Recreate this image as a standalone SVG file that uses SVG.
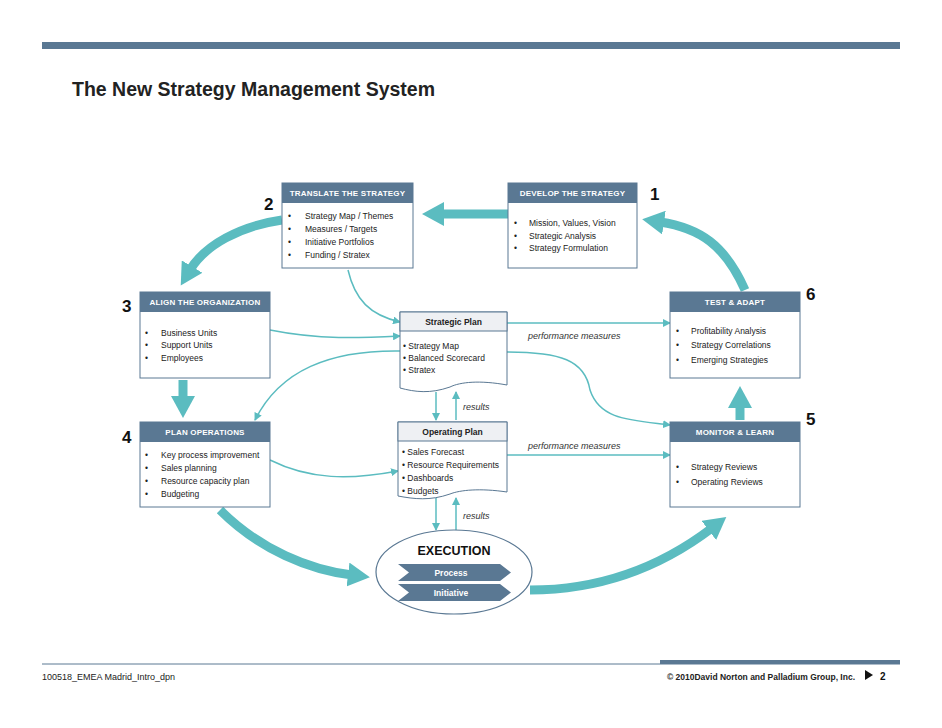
<svg xmlns="http://www.w3.org/2000/svg" width="942" height="728" viewBox="0 0 942 728">
<defs>
<marker id="ah" markerWidth="8" markerHeight="8" refX="7" refY="4" orient="auto" markerUnits="userSpaceOnUse"><path d="M0,0 L8,4 L0,8 Z" fill="#5bbcc0"/></marker>
<marker id="big" markerWidth="24" markerHeight="24" refX="4" refY="12" orient="auto" markerUnits="userSpaceOnUse"><path d="M0,0 L22,12 L0,24 Z" fill="#5bbcc0"/></marker>
</defs>
<style>
text{font-family:"Liberation Sans",Arial,sans-serif}
.hd{fill:#5a7893}
.hdt{fill:#fff;font-size:8px;font-weight:bold;text-anchor:middle;letter-spacing:0.2px}
.bx{fill:#fff;stroke:#5a7893;stroke-width:1}
.t{font-size:8.5px;fill:#222}
.num{font-size:17px;font-weight:bold;fill:#111}
.thick{fill:none;stroke:#5bbcc0;stroke-width:9;marker-end:url(#big)}
.thin{fill:none;stroke:#5bbcc0;stroke-width:1.5;marker-end:url(#ah)}
.it{font-size:9px;font-style:italic;fill:#333}
.ph{fill:#eef0f3;stroke:#5a7893}
.pht{font-size:8.5px;font-weight:bold;fill:#222;text-anchor:middle}
</style>
<rect width="942" height="728" fill="#fff"/>
<rect x="42" y="42" width="858" height="7" fill="#5a7893"/>
<text x="72" y="96" font-size="19.5" font-weight="bold" fill="#222">The New Strategy Management System</text>

<g id="connectors">
<path class="thick" d="M508,214 L440,214"/>
<path class="thick" d="M745,290 C725,245 700,228 660,222"/>
<path class="thick" d="M282,220 C240,226 205,245 190,270"/>
<path class="thick" d="M183,380 L183,400"/>
<path class="thick" d="M220,510 C260,550 310,570 352,575"/>
<path class="thick" d="M530,590 C610,590 670,560 712,528"/>
<path class="thick" d="M740,420 L740,404"/>
<path class="thin" d="M348,270 C355,300 370,315 400,322"/>
<path class="thin" d="M270,330 C320,340 360,338 400,336"/>
<path class="thin" d="M400,351 C330,350 280,370 255,420"/>
<path class="thin" d="M507,352 C560,352 585,360 590,390 C600,420 630,420 670,425"/>
<path class="thin" d="M507,323 L670,323"/>
<path class="thin" d="M436,392 L436,420"/>
<path class="thin" d="M456,420 L456,392"/>
<path class="thin" d="M270,460 C310,480 350,480 398,471"/>
<path class="thin" d="M507,455 L670,455"/>
<path class="thin" d="M436,498 L436,530"/>
<path class="thin" d="M456,530 L456,498"/>
<text class="it" x="528" y="339">performance measures</text>
<text class="it" x="528" y="449">performance measures</text>
<text class="it" x="463" y="410">results</text>
<text class="it" x="463" y="519">results</text>
</g>

<g id="translate">
<rect class="bx" x="282" y="183" width="131" height="85"/>
<rect class="hd" x="282" y="183" width="131" height="20"/>
<text class="hdt" x="347.5" y="196">TRANSLATE THE STRATEGY</text>
<text class="t" x="288" y="219">•</text><text class="t" x="305" y="219">Strategy Map / Themes</text>
<text class="t" x="288" y="232">•</text><text class="t" x="305" y="232">Measures / Targets</text>
<text class="t" x="288" y="245">•</text><text class="t" x="305" y="245">Initiative Portfolios</text>
<text class="t" x="288" y="258">•</text><text class="t" x="305" y="258">Funding / Stratex</text>
<text class="num" x="264" y="210">2</text>
</g>
<g id="develop">
<rect class="bx" x="508" y="183" width="129" height="85"/>
<rect class="hd" x="508" y="183" width="129" height="20"/>
<text class="hdt" x="572.5" y="196">DEVELOP THE STRATEGY</text>
<text class="t" x="514" y="226">•</text><text class="t" x="529" y="226">Mission, Values, Vision</text>
<text class="t" x="514" y="239">•</text><text class="t" x="529" y="239">Strategic Analysis</text>
<text class="t" x="514" y="251">•</text><text class="t" x="529" y="251">Strategy Formulation</text>
<text class="num" x="650" y="200">1</text>
</g>
<g id="align">
<rect class="bx" x="140" y="292" width="130" height="86"/>
<rect class="hd" x="140" y="292" width="130" height="20"/>
<text class="hdt" x="205" y="305">ALIGN THE ORGANIZATION</text>
<text class="t" x="145" y="336">•</text><text class="t" x="161" y="336">Business Units</text>
<text class="t" x="145" y="348">•</text><text class="t" x="161" y="348">Support Units</text>
<text class="t" x="145" y="361">•</text><text class="t" x="161" y="361">Employees</text>
<text class="num" x="122" y="312">3</text>
</g>
<g id="test">
<rect class="bx" x="670" y="292" width="130" height="86"/>
<rect class="hd" x="670" y="292" width="130" height="20"/>
<text class="hdt" x="735" y="305">TEST &amp; ADAPT</text>
<text class="t" x="676" y="334">•</text><text class="t" x="691" y="334">Profitability Analysis</text>
<text class="t" x="676" y="348">•</text><text class="t" x="691" y="348">Strategy Correlations</text>
<text class="t" x="676" y="363">•</text><text class="t" x="691" y="363">Emerging Strategies</text>
<text class="num" x="806" y="300">6</text>
</g>
<g id="strategic-plan">
<path class="bx" d="M400,312 L507,312 L507,385 C480,380 460,382 450,387 C430,394 415,392 400,388 Z"/>
<rect class="ph" x="400" y="312" width="107" height="19"/>
<text class="pht" x="453.5" y="325">Strategic Plan</text>
<text class="t" x="403" y="349">• Strategy Map</text>
<text class="t" x="403" y="361">• Balanced Scorecard</text>
<text class="t" x="403" y="373">• Stratex</text>
</g>
<g id="plan-ops">
<rect class="bx" x="140" y="422" width="130" height="85"/>
<rect class="hd" x="140" y="422" width="130" height="20"/>
<text class="hdt" x="205" y="435">PLAN OPERATIONS</text>
<text class="t" x="145" y="458">•</text><text class="t" x="161" y="458">Key process improvement</text>
<text class="t" x="145" y="471">•</text><text class="t" x="161" y="471">Sales planning</text>
<text class="t" x="145" y="484">•</text><text class="t" x="161" y="484">Resource capacity plan</text>
<text class="t" x="145" y="497">•</text><text class="t" x="161" y="497">Budgeting</text>
<text class="num" x="122" y="443">4</text>
</g>
<g id="operating-plan">
<path class="bx" d="M398,422 L507,422 L507,492 C480,488 460,490 450,494 C430,501 414,499 398,496 Z"/>
<rect class="ph" x="398" y="422" width="109" height="19"/>
<text class="pht" x="452.5" y="435">Operating Plan</text>
<text class="t" x="402" y="455">• Sales Forecast</text>
<text class="t" x="402" y="468">• Resource Requirements</text>
<text class="t" x="402" y="481">• Dashboards</text>
<text class="t" x="402" y="494">• Budgets</text>
</g>
<g id="monitor">
<rect class="bx" x="670" y="422" width="130" height="85"/>
<rect class="hd" x="670" y="422" width="130" height="20"/>
<text class="hdt" x="735" y="435">MONITOR &amp; LEARN</text>
<text class="t" x="676" y="470">•</text><text class="t" x="691" y="470">Strategy Reviews</text>
<text class="t" x="676" y="485">•</text><text class="t" x="691" y="485">Operating Reviews</text>
<text class="num" x="806" y="425">5</text>
</g>
<g id="execution">
<ellipse cx="454" cy="572" rx="78" ry="42" fill="#fff" stroke="#5a7893" stroke-width="1.2"/>
<text x="454" y="555" font-size="12.5" font-weight="bold" fill="#111" text-anchor="middle">EXECUTION</text>
<path d="M398,564 L500,564 L511,572.5 L500,581 L398,581 L409,572.5 Z" fill="#5a7893"/>
<path d="M398,584 L500,584 L511,592.5 L500,601 L398,601 L409,592.5 Z" fill="#5a7893"/>
<text x="451" y="576" font-size="8.5" font-weight="bold" fill="#fff" text-anchor="middle">Process</text>
<text x="451" y="596" font-size="8.5" font-weight="bold" fill="#fff" text-anchor="middle">Initiative</text>
</g>
<line x1="42" y1="664" x2="900" y2="664" stroke="#5a7893" stroke-width="1"/>
<rect x="660" y="660" width="240" height="4" fill="#5a7893"/>
<text x="42" y="680" font-size="9" fill="#222">100518_EMEA Madrid_Intro_dpn</text>
<text x="855" y="680" font-size="8.5" font-weight="bold" fill="#222" text-anchor="end">© 2010David Norton and Palladium Group, Inc.</text>
<path d="M865,670 L873,675 L865,680 Z" fill="#111"/>
<text x="880" y="680" font-size="10" font-weight="bold" fill="#111">2</text>
</svg>
